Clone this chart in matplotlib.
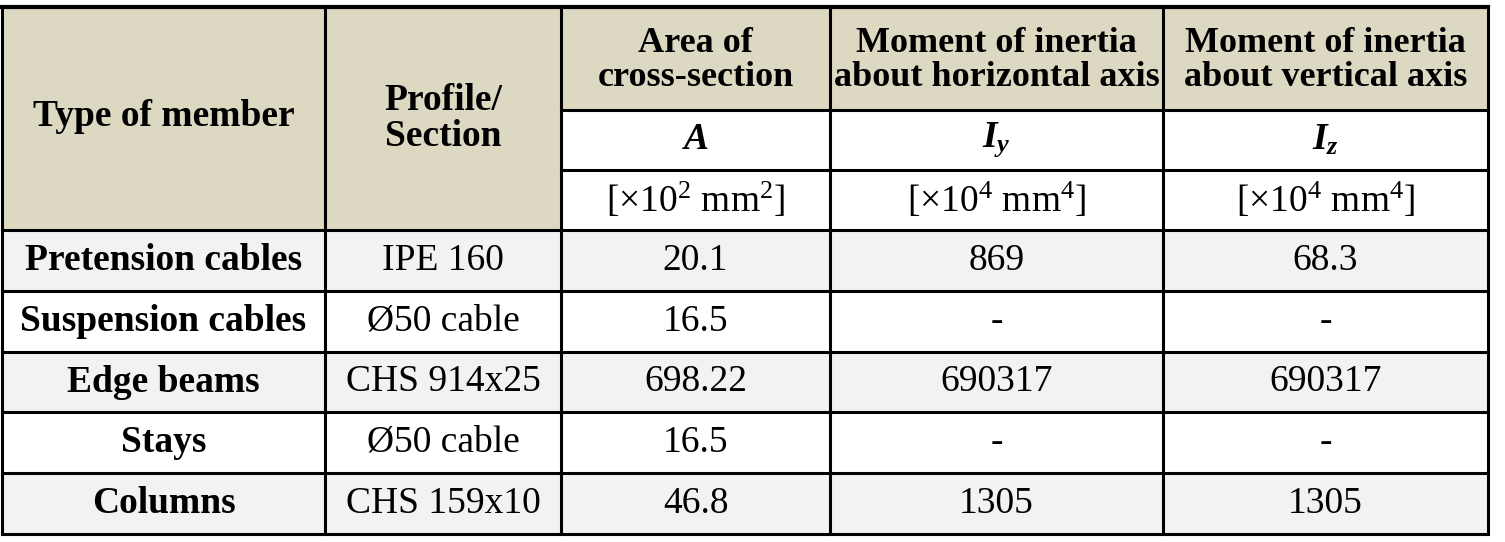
import matplotlib
matplotlib.use("Agg")
import matplotlib.pyplot as plt
from matplotlib.patches import Rectangle

plt.rcParams['font.family'] = ['Liberation Serif', 'DejaVu Serif']
plt.rcParams['mathtext.fontset'] = 'custom'
plt.rcParams['mathtext.rm'] = 'Liberation Serif'
plt.rcParams['mathtext.it'] = 'Liberation Serif:bold:italic'
plt.rcParams['mathtext.bf'] = 'Liberation Serif:bold'

members = ["Pretension cables", "Suspension cables", "Edge beams", "Stays", "Columns"]
profiles = ["IPE 160", "Ø50 cable", "CHS 914x25", "Ø50 cable", "CHS 159x10"]
area = ["20.1", "16.5", "698.22", "16.5", "46.8"]
iy = ["869", "-", "690317", "-", "1305"]
iz = ["68.3", "-", "690317", "-", "1305"]
group_headers = ["Area of\ncross-section", "Moment of inertia\nabout horizontal axis", "Moment of inertia\nabout vertical axis"]
symbols = [r"$A$", r"$I_y$", r"$I_z$"]
units = [r"[×10$^2$ mm$^2$]", r"[×10$^4$ mm$^4$]", r"[×10$^4$ mm$^4$]"]

W, H = 1505, 542
fig = plt.figure(figsize=(W/100, H/100), dpi=100)
ax = fig.add_axes([0, 0, 1, 1])
ax.set_xlim(0, W); ax.set_ylim(H, 0); ax.axis('off')

xs = [2, 325, 561, 830, 1163, 1488]
hy = [7, 110, 170, 230]
ry = [230, 291, 352, 412, 473, 534]
beige = '#ddd8c2'; grey = '#f2f2f2'
fs = 27

def rect(x0, y0, x1, y1, c):
    ax.add_patch(Rectangle((x0, y0), x1-x0, y1-y0, facecolor=c, edgecolor='none', zorder=0))

rect(xs[0], hy[0], xs[2], hy[3], beige)
rect(xs[2], hy[0], xs[5], hy[1], beige)
ax.text((xs[0]+xs[1])/2, (hy[0]+hy[3])/2-2, "Type of member", ha='center', va='center', fontsize=fs, fontweight='bold')
ax.text((xs[1]+xs[2])/2, (hy[0]+hy[3])/2, "Profile/\nSection", ha='center', va='center', fontsize=fs, fontweight='bold', linespacing=1.05)
for j in range(3):
    cx = (xs[j+2]+xs[j+3])/2
    ax.text(cx, (hy[0]+hy[1])/2+2, group_headers[j], ha='center', va='center', fontsize=fs-1, fontweight='bold', linespacing=1.0)
    ax.text(cx, (hy[1]+hy[2])/2, symbols[j], ha='center', va='center', fontsize=fs)
    ax.text(cx, (hy[2]+hy[3])/2, units[j], ha='center', va='center', fontsize=fs)

cols = [members, profiles, area, iy, iz]
for i in range(5):
    y0, y1 = ry[i], ry[i+1]
    rect(xs[0], y0, xs[5], y1, grey if i % 2 == 0 else 'white')
    for j in range(5):
        ax.text((xs[j]+xs[j+1])/2, (y0+y1)/2, cols[j][i], ha='center', va='center',
                fontsize=fs, fontweight='bold' if j == 0 else 'normal')

lw = 2.2
ax.plot([xs[0], xs[5]], [hy[0]]*2, color='black', lw=3)
for y in hy[1:3]:
    ax.plot([xs[2], xs[5]], [y]*2, color='black', lw=lw)
for y in ry:
    ax.plot([xs[0], xs[5]], [y]*2, color='black', lw=lw)
for x in xs:
    ax.plot([x, x], [hy[0], ry[-1]], color='black', lw=lw)

fig.savefig("out.png", dpi=100, facecolor='white')
